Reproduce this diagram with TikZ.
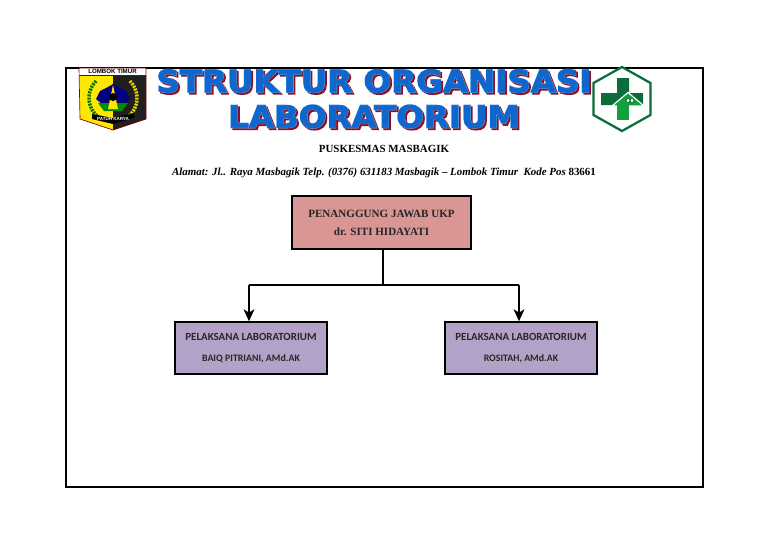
\documentclass[tikz,border=0pt]{standalone}
\usepackage{fontspec}
\setmainfont{Liberation Serif}
\newfontfamily\boxfont{Carlito}
\newfontfamily\logofont{Liberation Sans}
\newfontfamily\titlefont[FakeBold=4.2]{DejaVu Sans Bold}
\newfontfamily\titleinner[FakeBold=2.4]{DejaVu Sans Bold}
\usetikzlibrary{arrows.meta}
\definecolor{kepala}{HTML}{D99694}
\definecolor{pelaksana}{HTML}{B3A2C7}
\definecolor{judulbiru}{HTML}{0F66CC}
\definecolor{judultepi}{HTML}{8FC0F0}
\definecolor{judulmerah}{HTML}{8E1020}
\definecolor{hijautua}{HTML}{0B6E3A}
\definecolor{hijaumuda}{HTML}{12A03C}
\tikzset{
    kotakkepala/.style={draw=black, line width=1.5pt, fill=kepala, minimum width=134pt, minimum height=39.5pt, align=center, font=\bfseries\fontsize{8.3}{13.5}\selectfont, text=black!85},
    kotakstaf/.style={draw=black, line width=1.5pt, fill=pelaksana, minimum width=114pt, minimum height=38.5pt, align=center, font=\boxfont\bfseries\fontsize{8.2}{15.5}\selectfont, text=black!85},
    panah/.style={line width=1.5pt, -{Stealth[length=9pt, width=8pt, inset=2.5pt]}},
    garis/.style={line width=1.5pt},
    judulbayang/.style={inner sep=0pt, text=judulmerah, transform shape},
    judultepian/.style={inner sep=0pt, text=judultepi, transform shape},
    juduldalam/.style={inner sep=0pt, text=judulbiru, transform shape},
}
\begin{document}
\begin{tikzpicture}[x=0.75pt, y=-0.75pt]
    \useasboundingbox (0, 0) rectangle (768, 543);
    \fill[white] (0, 0) rectangle (768, 543);

    \draw[line width=1.6pt] (66, 68) rectangle (703, 487);

    % title
    \foreach \baris/\tengah/\tinggi/\skala in {STRUKTUR ORGANISASI/374/81/1.06, LABORATORIUM/374/116.5/1.06} {
        \node[judulbayang, xscale=\skala, font=\titlefont\fontsize{23}{23}\selectfont] at (\tengah+1.8, \tinggi+1.8) {\baris};
        \node[judultepian, xscale=\skala, font=\titlefont\fontsize{23}{23}\selectfont] at (\tengah, \tinggi) {\baris};
        \node[juduldalam, xscale=\skala, font=\titleinner\fontsize{23}{23}\selectfont] at (\tengah, \tinggi) {\baris};
    }

    % left emblem
    \fill[white] (79, 68) rectangle (146, 75);
    \fill[yellow!90!orange] (80, 75) -- (113, 75) -- (113, 130) -- (80, 119) -- cycle;
    \fill[black!88] (113, 75) -- (146, 75) -- (146, 119) -- (113, 130) -- cycle;
    \draw[red!55!black, line width=0.5pt] (79, 68) -- (146, 68) -- (146, 119) -- (113, 130) -- (80, 119) -- cycle;
    \draw[red!55!black, line width=0.4pt] (79, 75) -- (146, 75);
    \node[inner sep=0pt, font=\logofont\bfseries\fontsize{4.6}{5}\selectfont] (lombok) at (112.5, 71.5) {LOMBOK TIMUR};
    \draw[green!45!black, line width=2.6pt, dash pattern=on 1.5pt off 0.8pt] ([shift={(113, 98)}]125:24) arc (125:225:24);
    \draw[yellow!75!olive, line width=2.6pt, dash pattern=on 1.5pt off 0.8pt] ([shift={(113, 98)}]55:24) arc (55:-45:24);
    \fill[blue!50!black] (96, 99) -- (100, 91) -- (108, 87) -- (113, 84) -- (118, 87) -- (126, 91) -- (130, 99) -- (124, 104) -- (102, 104) -- cycle;
    \fill[green!55!black] (98, 103) -- (128, 103) -- (122, 111) -- (104, 111) -- cycle;
    \fill[yellow!85!orange] (113, 85) -- (118, 109) -- (108, 109) -- cycle;
    \fill[black] (113, 97) circle (4);
    \fill[black] (92, 114) -- (113, 118) -- (134, 113) -- (134, 118) -- (113, 124) -- (92, 119) -- cycle;
    \node[inner sep=0pt, text=white, font=\logofont\bfseries\fontsize{3.4}{4}\selectfont] (semboyan) at (113, 119) {PATUH KARYA};

    % right emblem
    \draw[hijautua, line width=1.7pt, fill=white] (622, 67) -- (650.5, 83) -- (650.5, 115) -- (622, 131) -- (593.5, 115) -- (593.5, 83) -- cycle;
    \fill[hijautua] (617, 78) -- (629, 78) -- (629, 93) -- (643, 93) -- (643, 105) -- (601, 105) -- (601, 93) -- (617, 93) -- cycle;
    \draw[white, line width=0.9pt, fill=hijaumuda] (612, 106) -- (628, 92.5) -- (644, 106) -- cycle;
    \fill[hijaumuda] (617, 105) rectangle (629, 120);
    \draw[hijautua, line width=0.6pt, fill=white] (628, 100.5) circle (2) (632, 100.5) circle (2);

    % header text
    \node[inner sep=0pt, font=\bfseries\fontsize{8.2}{10}\selectfont] (puskesmas) at (384, 149) {PUSKESMAS MASBAGIK};
    \node[inner sep=0pt, font=\fontsize{8.2}{10}\selectfont] (alamat) at (384, 173) {\textbf{\textit{Alamat: Jl.. Raya Masbagik Telp. (0376) 631183 Masbagik -- Lombok Timur\ \ Kode Pos}} \textbf{83661}};

    % boxes
    \node[kotakkepala] (kepala) at (381.5, 222.5) {PENANGGUNG JAWAB UKP\\dr. SITI HIDAYATI};
    \node[kotakstaf] (stafkiri) at (251, 348) {PELAKSANA LABORATORIUM\\{\fontsize{7.4}{15.5}\selectfont BAIQ PITRIANI, AMd.AK}};
    \node[kotakstaf] (stafkanan) at (521, 348) {PELAKSANA LABORATORIUM\\{\fontsize{7.4}{15.5}\selectfont ROSITAH, AMd.AK}};

    % connectors
    \coordinate (cabang) at (383, 285);
    \coordinate (cabangkiri) at (249, 285);
    \coordinate (cabangkanan) at (519, 285);
    \draw[garis] (cabang |- kepala.south) -- (cabang);
    \draw[garis] (cabangkiri) -- (cabangkanan);
    \draw[panah] (cabangkiri) -- (cabangkiri |- stafkiri.north);
    \draw[panah] (cabangkanan) -- (cabangkanan |- stafkanan.north);
\end{tikzpicture}
\end{document}
